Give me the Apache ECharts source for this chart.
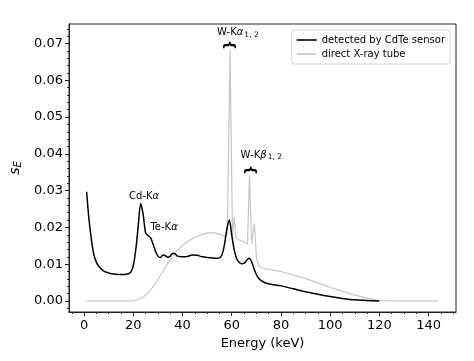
<!DOCTYPE html>
<html>
<head>
<meta charset="utf-8">
<script src="https://cdn.jsdelivr.net/npm/echarts@6/dist/echarts.min.js"></script>
<style>html,body{margin:0;padding:0;background:#fff}#c{width:474px;height:361px}</style>
</head>
<body>
<div id="c"></div>
<script>
// ---- data ----
const energyBlack = [1,2,3,4,5,6,7,8,10,12,14,16,18,19,20,21,22,23,24,25,26,27,28,29,30,31,32,33,34,35,36,37,38,40,42,44,46,48,50,52,54,55,56,57,58,59,60,61,62,63,64,65,66,67,68,69,70,71,72,74,77,80,85,90,95,100,105,110,115,120];
const sBlack = [0.0297,0.0220,0.0165,0.0125,0.0105,0.0094,0.0087,0.0081,0.0076,0.0073,0.0072,0.0072,0.0074,0.0079,0.0097,0.0140,0.0205,0.0265,0.0235,0.0185,0.0178,0.0172,0.0155,0.0135,0.0122,0.0118,0.0125,0.0123,0.0119,0.0122,0.0130,0.0128,0.0122,0.0120,0.0121,0.0125,0.0124,0.0120,0.0118,0.0117,0.0116,0.0117,0.0125,0.0152,0.0195,0.0220,0.0180,0.0139,0.0115,0.0105,0.0101,0.0102,0.0110,0.0116,0.0108,0.0088,0.0072,0.0061,0.0055,0.0048,0.0044,0.0041,0.0033,0.0025,0.0018,0.0012,0.0007,0.0003,0.0001,0.0000];

const energyGray = [1,10,19,20,22,24,26,28,30,32,34,36,38,40,43,46,50,53,55,57,58.2,59.3,60.3,61,61.7,64,66.4,67.2,68.1,69.2,70.1,71,72.6,80,89.6,100,110,119.5,120,130,144];
const sGray = [0,0,0,0.0001,0.0004,0.0010,0.0022,0.0038,0.0058,0.0080,0.0102,0.0122,0.0139,0.0152,0.0166,0.0176,0.0185,0.0185,0.0181,0.0177,0.0180,0.0682,0.0180,0.0229,0.0170,0.0163,0.0155,0.0342,0.0155,0.0211,0.0113,0.0095,0.0089,0.0080,0.0062,0.0037,0.0016,0.0001,0,0,0];

const xTicks = [0,20,40,60,80,100,120,140];
const yTicks = [0.00,0.01,0.02,0.03,0.04,0.05,0.06,0.07];
const seriesNames = ['detected by CdTe sensor','direct X-ray tube'];

// annotations: text and anchor in data coordinates
const annotations = [
  {text:'Cd-K{i|α}', e:24.4, s:0.0283},
  {text:'Te-K{i|α}', e:32.5, s:0.0201},
  {text:'W-K{i|α}{sub|1, 2}', e:62.5, s:0.0731},
  {text:'W-K{i|β}{sub|1, 2}', e:72.0, s:0.0397}
];
const braces = [{e:59.4, s:0.0696},{e:67.9, s:0.0356}];

const xMin = -6.15, xMax = 151.15, yMin = -0.003, yMax = 0.0753;
const xMinor = []; for (let v = -5; v <= 150; v += 5) if (v % 20 !== 0) xMinor.push(v);
const yMinor = []; for (let k = -1; k <= 37; k++) { if (k % 5 !== 0) yMinor.push(+(k*0.002).toFixed(4)); }

const FONT = 'DejaVu Sans';
const chart = echarts.init(document.getElementById('c'), null, {renderer:'canvas'});
const hidden = {show:false};
chart.setOption({
  animation:false,
  backgroundColor:'#fff',
  textStyle:{fontFamily:FONT},
  grid:{left:69,right:18,top:24,bottom:49,show:true,borderColor:'#222',borderWidth:1,containLabel:false},
  legend:{
    data:[{name:seriesNames[0],icon:'rect',itemStyle:{color:'#000'}},{name:seriesNames[1],icon:'rect',itemStyle:{color:'#c3c7c7'}}],
    orient:'vertical', right:24, top:30,
    itemWidth:20, itemHeight:1.6, itemGap:2,
    padding:[4,5,4,5],
    borderColor:'#d4d4d4', borderWidth:1, borderRadius:3,
    textStyle:{fontFamily:FONT,fontSize:10,color:'#000',lineHeight:12}
  },
  xAxis:[{
    type:'value', min:xMin, max:xMax,
    name:'Energy (keV)', nameLocation:'middle', nameGap:21,
    nameTextStyle:{fontFamily:FONT,fontSize:13,color:'#000'},
    axisLine:{show:true,onZero:false,lineStyle:{color:'#222'}},
    axisTick:{show:true,inside:false,length:4,customValues:xTicks,lineStyle:{color:'#222'}},
    axisLabel:{show:true,customValues:xTicks,fontFamily:FONT,fontSize:13,color:'#000',margin:7,formatter:v=>String(Math.round(v))},
    splitLine:hidden
  },{
    type:'value', min:xMin, max:xMax, position:'bottom',
    axisLine:{show:false,onZero:false}, axisLabel:hidden, splitLine:hidden,
    axisTick:{show:true,length:2,customValues:xMinor,lineStyle:{color:'#222'}}
  }],
  yAxis:[{
    type:'value', min:yMin, max:yMax,
    name:'{s|s}{sub|E}', nameLocation:'middle', nameGap:38, nameRotate:90,
    nameTextStyle:{rich:{s:{fontFamily:FONT,fontSize:14,fontStyle:'italic',color:'#000'},sub:{fontFamily:FONT,fontSize:10,fontStyle:'italic',color:'#000',verticalAlign:'bottom',padding:[6,0,0,0]}}},
    axisLine:{show:true,onZero:false,lineStyle:{color:'#222'}},
    axisTick:{show:true,length:4,customValues:yTicks,lineStyle:{color:'#222'}},
    axisLabel:{show:true,customValues:yTicks,fontFamily:FONT,fontSize:13,color:'#000',margin:6,formatter:v=>v.toFixed(2)},
    splitLine:hidden
  },{
    type:'value', min:yMin, max:yMax, position:'left',
    axisLine:{show:false,onZero:false}, axisLabel:hidden, splitLine:hidden,
    axisTick:{show:true,length:2,customValues:yMinor,lineStyle:{color:'#222'}}
  }],
  series:[
    {name:seriesNames[1], type:'line', xAxisIndex:0, yAxisIndex:0, symbol:'none', z:2,
     lineStyle:{color:'#c3c7c7',width:1.2}, itemStyle:{color:'#c3c7c7'},
     data:energyGray.map((e,i)=>[e,sGray[i]])},
    {name:seriesNames[0], type:'line', xAxisIndex:0, yAxisIndex:0, symbol:'none', z:3, smooth:0.3,
     lineStyle:{color:'#000',width:1.5}, itemStyle:{color:'#000'},
     data:energyBlack.map((e,i)=>[e,sBlack[i]])}
  ]
});

const rich = {
  i:{fontFamily:FONT,fontSize:10,fontStyle:'italic',fill:'#000'},
  sub:{fontFamily:FONT,fontSize:7.5,fill:'#000',padding:[5,0,0,1]}
};
const gfx = [];
annotations.forEach(a=>{
  const p = chart.convertToPixel({xAxisIndex:0,yAxisIndex:0},[a.e,a.s]);
  gfx.push({type:'text',x:p[0],y:p[1],z:10,style:{text:a.text,rich:rich,fontFamily:FONT,fontSize:10,fill:'#000',align:'center',verticalAlign:'middle'}});
});
braces.forEach(b=>{
  const p = chart.convertToPixel({xAxisIndex:0,yAxisIndex:0},[b.e,b.s]);
  gfx.push({type:'text',x:p[0],y:p[1],rotation:Math.PI/2,z:10,style:{text:'}',fontFamily:FONT,fontSize:14,fontWeight:'bold',fill:'#000',align:'center',verticalAlign:'middle'}});
});
chart.setOption({graphic:gfx});
</script>
</body>
</html>
